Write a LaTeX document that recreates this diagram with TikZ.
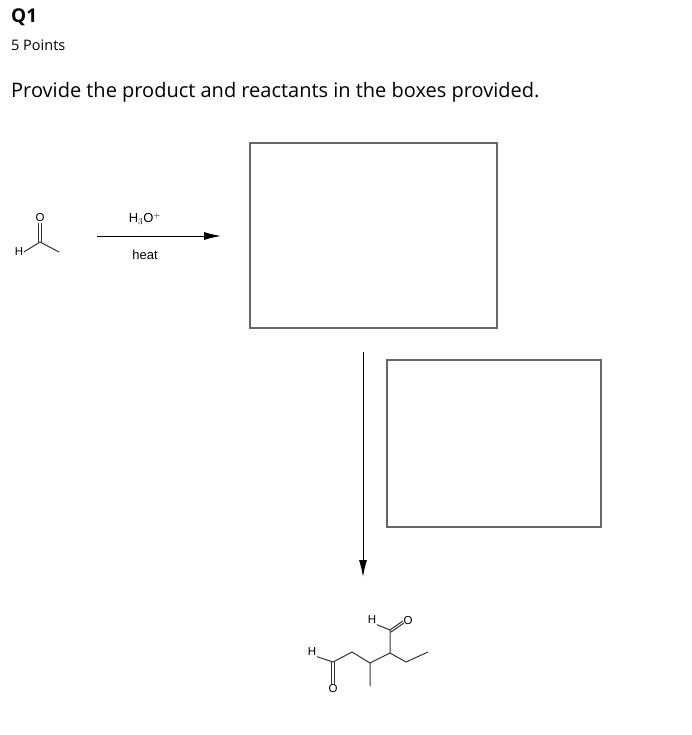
\documentclass[tikz,border=0pt]{standalone}
\usepackage{fontspec}
\setmainfont{Open Sans}
\newfontfamily\arial{Liberation Sans}
\usetikzlibrary{arrows.meta}
\begin{document}
\begin{tikzpicture}[x=1pt,y=-1pt,
  bond/.style={line width=1pt,black!80},
  lbl/.style={font=\arial\fontsize{11.5}{13}\selectfont,inner sep=0.5pt},
  box/.style={draw=black!60,line width=1.2pt},
  rarrow/.style={line width=1pt,-{Latex[length=17pt,width=8pt]}}]
\useasboundingbox[fill=white] (0,0) rectangle (692,735);
\node[anchor=west,font=\bfseries\fontsize{19}{22}\selectfont,inner sep=0pt] (q) at (11,17) {Q1};
\node[anchor=west,font=\fontsize{14.5}{17}\selectfont,inner sep=0pt] (pts) at (11,45) {5 Points};
\node[anchor=west,font=\fontsize{20}{24}\selectfont,inner sep=0pt] (prov) at (11,92) {Provide the product and reactants in the boxes provided.};
% acetaldehyde
\node[lbl] (o1) at (40,218) {O};
\node[lbl] (h1) at (19,252) {H};
\coordinate (c1) at (40,242);
\coordinate (m1) at (59,252);
\draw[bond] (h1.east) -- (c1) -- (m1);
\draw[bond] ([xshift=-1.5pt]c1) -- ([xshift=-1.5pt]o1.south);
\draw[bond] ([xshift=1.5pt]c1) -- ([xshift=1.5pt]o1.south);
% arrow
\coordinate (a1) at (97,236);
\coordinate (a2) at (221,236);
\draw[rarrow] (a1) -- (a2);
\node[lbl,font=\arial\fontsize{13}{15}\selectfont] (h3o) at (145,219) {H$_3$O$^+$};
\node[lbl,font=\arial\fontsize{13}{15}\selectfont] (heat) at (145,255) {heat};
% boxes
\draw[box] (250,143) rectangle (497,328);
\draw[box] (387,360) rectangle (601,527);
\coordinate (v1) at (363,352);
\coordinate (v2) at (363,577);
\draw[rarrow] (v1) -- (v2);
% product
\node[lbl] (h2) at (372,620) {H};
\node[lbl] (o2) at (408,621) {O};
\coordinate (k1) at (390,630);
\coordinate (k2) at (390,653);
\coordinate (e1) at (406,662);
\coordinate (e2) at (428,652);
\coordinate (k3) at (370,663);
\coordinate (me) at (370,686);
\coordinate (k4) at (352,652);
\coordinate (k5) at (333,662);
\node[lbl] (h3) at (312,652) {H};
\node[lbl] (o3) at (333,689) {O};
\draw[bond] (h2.south east) -- (k1);
\draw[bond] (k1) -- (o2.west);
\draw[bond] ([shift={(1,2)}]k1) -- ([shift={(1,2)}]o2.west);
\draw[bond] (k1) -- (k2) -- (e1) -- (e2);
\draw[bond] (k2) -- (k3) -- (me);
\draw[bond] (k3) -- (k4) -- (k5);
\draw[bond] (h3.south east) -- (k5);
\draw[bond] ([xshift=-1.5pt]k5) -- ([xshift=-1.5pt]o3.north);
\draw[bond] ([xshift=1.5pt]k5) -- ([xshift=1.5pt]o3.north);
\end{tikzpicture}
\end{document}
